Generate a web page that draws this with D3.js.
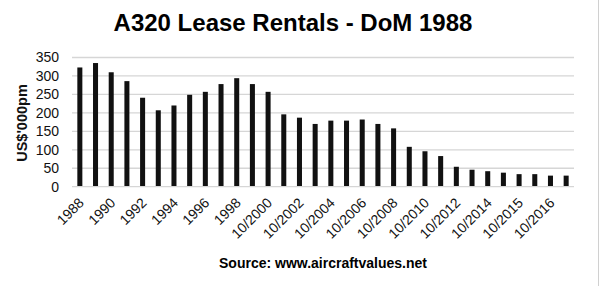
<!DOCTYPE html>
<html>
<head>
<meta charset="utf-8">
<script src="https://cdn.jsdelivr.net/npm/d3@7"></script>
<style>
  html, body { margin: 0; padding: 0; background: #fff; }
  svg { display: block; font-family: "Liberation Sans", Arial, sans-serif; }
</style>
</head>
<body>
<svg id="chart" width="600" height="286"></svg>
<script>
const categories = ["1988","1989","1990","1991","1992","1993","1994","1995","1996","1997","1998","1999",
  "10/2000","10/2001","10/2002","10/2003","10/2004","10/2005","10/2006","10/2007","10/2008","10/2009",
  "10/2010","10/2011","10/2012","10/2013","10/2014","4/2015","10/2015","4/2016","10/2016","4/2017"];
const rentals = [323,335,310,286,241,207,220,249,257,278,294,278,257,196,187,170,179,179,182,170,158,108,96,83,54,46,42,38,34,34,30,30];
const yTicks = [0,50,100,150,200,250,300,350];
const shownLabels = categories.filter((d, i) => i % 2 === 0);

(function () {
const svg = d3.select("#chart");
const pLeft = 72, pRight = 574, pTop = 57.5, pBottom = 186.7;

const x = d3.scaleBand().domain(categories).range([pLeft, pRight]).paddingInner(0.68).paddingOuter(0.34);
const y = d3.scaleLinear().domain([0, 350]).range([pBottom, pTop]);

// right frame line
svg.append("line").attr("x1", 598.5).attr("x2", 598.5).attr("y1", 0).attr("y2", 286)
  .attr("stroke", "#d0d0d0").attr("stroke-width", 1);

// gridlines
svg.append("g").selectAll("line").data(yTicks.filter(d => d > 0)).join("line")
  .attr("x1", pLeft).attr("x2", pRight)
  .attr("y1", d => y(d)).attr("y2", d => y(d))
  .attr("stroke", "#d6d6d6").attr("stroke-width", 1.3);

// y axis labels
const yAxis = d3.axisLeft(y).tickValues(yTicks).tickSize(0).tickPadding(13);
const gy = svg.append("g").attr("transform", `translate(${pLeft},0)`).call(yAxis);
gy.select(".domain").remove();
gy.selectAll("text").attr("font-size", 14).attr("fill", "#111")
  .attr("font-family", "'Liberation Sans', Arial, sans-serif");

// bars
svg.append("g").selectAll("rect").data(rentals).join("rect")
  .attr("x", (d, i) => x(categories[i]))
  .attr("width", x.bandwidth())
  .attr("y", d => y(d))
  .attr("height", d => y(0) - y(d))
  .attr("fill", "#111");

// baseline
svg.append("line").attr("x1", pLeft).attr("x2", pRight).attr("y1", y(0)).attr("y2", y(0))
  .attr("stroke", "#d6d6d6").attr("stroke-width", 1.3);

// x axis labels
const xAxis = d3.axisBottom(x).tickValues(shownLabels).tickSize(0).tickPadding(0);
const gx = svg.append("g").attr("transform", `translate(0,${pBottom})`).call(xAxis);
gx.select(".domain").remove();
gx.selectAll("text")
  .attr("font-size", 14).attr("fill", "#111")
  .attr("font-family", "'Liberation Sans', Arial, sans-serif")
  .attr("text-anchor", "end")
  .attr("dy", null).attr("y", 0)
  .attr("transform", "translate(5,17) rotate(-45)");

// y axis title
svg.append("text")
  .attr("transform", "translate(27,123) rotate(-90)")
  .attr("text-anchor", "middle")
  .attr("font-size", 14.5).attr("font-weight", "bold").attr("fill", "#111")
  .text("US$'000pm");

// title
svg.append("text").attr("x", 293).attr("y", 31).attr("text-anchor", "middle")
  .attr("font-size", 24).attr("font-weight", "bold").attr("fill", "#000")
  .text("A320 Lease Rentals - DoM 1988");

// source
svg.append("text").attr("x", 323).attr("y", 268).attr("text-anchor", "middle")
  .attr("font-size", 14).attr("font-weight", "bold").attr("fill", "#000")
  .text("Source: www.aircraftvalues.net");
})();
</script>
</body>
</html>
